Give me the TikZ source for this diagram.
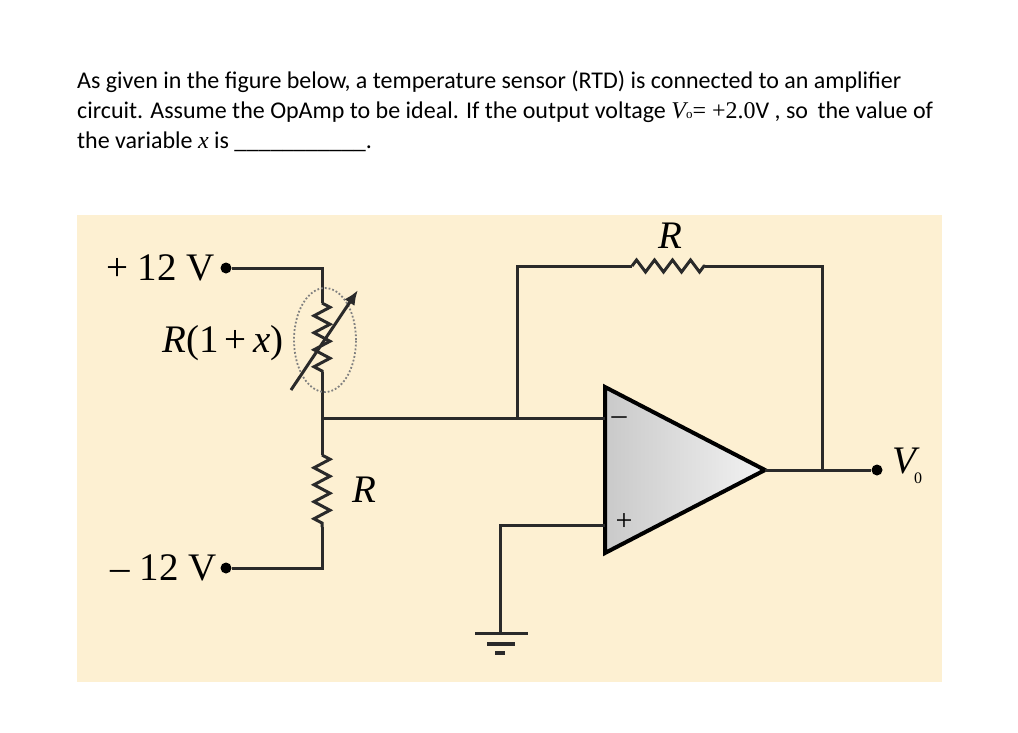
\documentclass[tikz,border=0pt]{standalone}
\usepackage{fontspec}
\setmainfont{Carlito}
\newfontfamily\tms{Liberation Serif}
\usetikzlibrary{decorations.pathmorphing,arrows.meta}
\definecolor{panel}{HTML}{FDF0D2}
\definecolor{wire}{HTML}{2A2A2A}
\begin{document}
\begin{tikzpicture}[x=1pt,y=-1pt,
  w/.style={draw=wire,line width=3pt},
  res/.style={w,decoration={zigzag,amplitude=8pt,segment length=17pt},decorate},
  dot/.style={circle,fill=black,inner sep=0,minimum size=11pt},
  lbl/.style={font=\tms\fontsize{39}{39}\selectfont,inner sep=1pt},
  txt/.style={font=\fontsize{24}{28}\selectfont,anchor=west,inner sep=0}]
\useasboundingbox (0,0) rectangle (1018,732);
\fill[white] (0,0) rectangle (1018,732);
\node[txt] (t1) at (77,82) {As given in the figure below, a temperature sensor (RTD) is connected to an amplifier};
\node[txt] (t2) at (77,112) {circuit. Assume the OpAmp to be ideal. If the output voltage {\tms\itshape V}{\tms\fontsize{13}{13}\selectfont o}{\tms= +2.0}V , so\, the value of};
\node[txt] (t3) at (77,142) {the variable {\tms\itshape x} is \_\_\_\_\_\_\_\_\_\_\_.};
\fill[panel] (77,215) rectangle (942,682);
% nodes / coordinates
\node[dot] (vp) at (226,268) {};
\node[dot] (vm) at (226,568) {};
\node[dot] (vo) at (877,470) {};
\coordinate (a1) at (322,268);
\coordinate (r1t) at (322,303);
\coordinate (r1b) at (322,372);
\coordinate (j) at (322,418);
\coordinate (r2t) at (322,455);
\coordinate (r2b) at (322,527);
\coordinate (a2) at (322,568);
\coordinate (fb) at (517,418);
\coordinate (fbt) at (517,266);
\coordinate (rft) at (632,266);
\coordinate (rfb) at (705,266);
\coordinate (fr) at (822,266);
\coordinate (fo) at (822,470);
\coordinate (inm) at (605,418);
\coordinate (inp) at (605,525);
\coordinate (gp) at (500,525);
\coordinate (gnd) at (500,633);
% opamp
\path[left color=gray!42,right color=gray!10,draw=black,line width=4pt,line join=miter]
  (605,387) -- (765,470) -- (605,553) -- cycle;
\coordinate (out) at (765,470);
\node[font=\tms\fontsize{30}{30}\selectfont] (mi) at (619,421) {–};
\node[font=\tms\fontsize{30}{30}\selectfont] (pl) at (624,522) {+};
% wires
\draw[w] (vp) -- (a1) -- (r1t);
\draw[res] (r1t) -- (r1b);
\draw[w] (r1b) -- (j) -- (r2t);
\draw[res] (r2t) -- (r2b);
\draw[w] (r2b) -- (a2) -- (vm);
\draw[w] (j) -- (inm);
\draw[w] (fb) -- (fbt) -- (rft);
\draw[res,decoration={amplitude=6pt,segment length=18pt}] (rft) -- (rfb);
\draw[w] (rfb) -- (fr) -- (fo);
\draw[w] (out) -- (vo);
\draw[w] (inp) -- (gp) -- (gnd);
\draw[w] (475,633) -- (528,633);
\draw[w,line width=3.5pt] (487,644) -- (515,644);
\draw[w,line width=3.5pt] (495,653) -- (505,653);
% RTD extras
\draw[gray,line width=1.8pt,dotted] (325,340) ellipse [x radius=31pt,y radius=52pt];
\draw[w,-{Latex[length=15pt,width=12pt]}] (291,390) -- (358,290);
% labels
\node[lbl,anchor=east] (l1) at (216,268) {+ 12 V};
\node[lbl,anchor=east] (l2) at (218,568) {– 12 V};
\node[lbl,anchor=east] (l3) at (285,343) {\itshape R\upshape(1\,+\,\itshape x\upshape)};
\node[lbl,anchor=west] (l4) at (351,490) {\itshape R};
\node[lbl] (l5) at (670,236) {\itshape R};
\node[lbl,anchor=west] (l6) at (891,466) {\itshape V\kern-2pt\raisebox{-10pt}{\fontsize{16}{16}\selectfont\upshape 0}};
\end{tikzpicture}
\end{document}
